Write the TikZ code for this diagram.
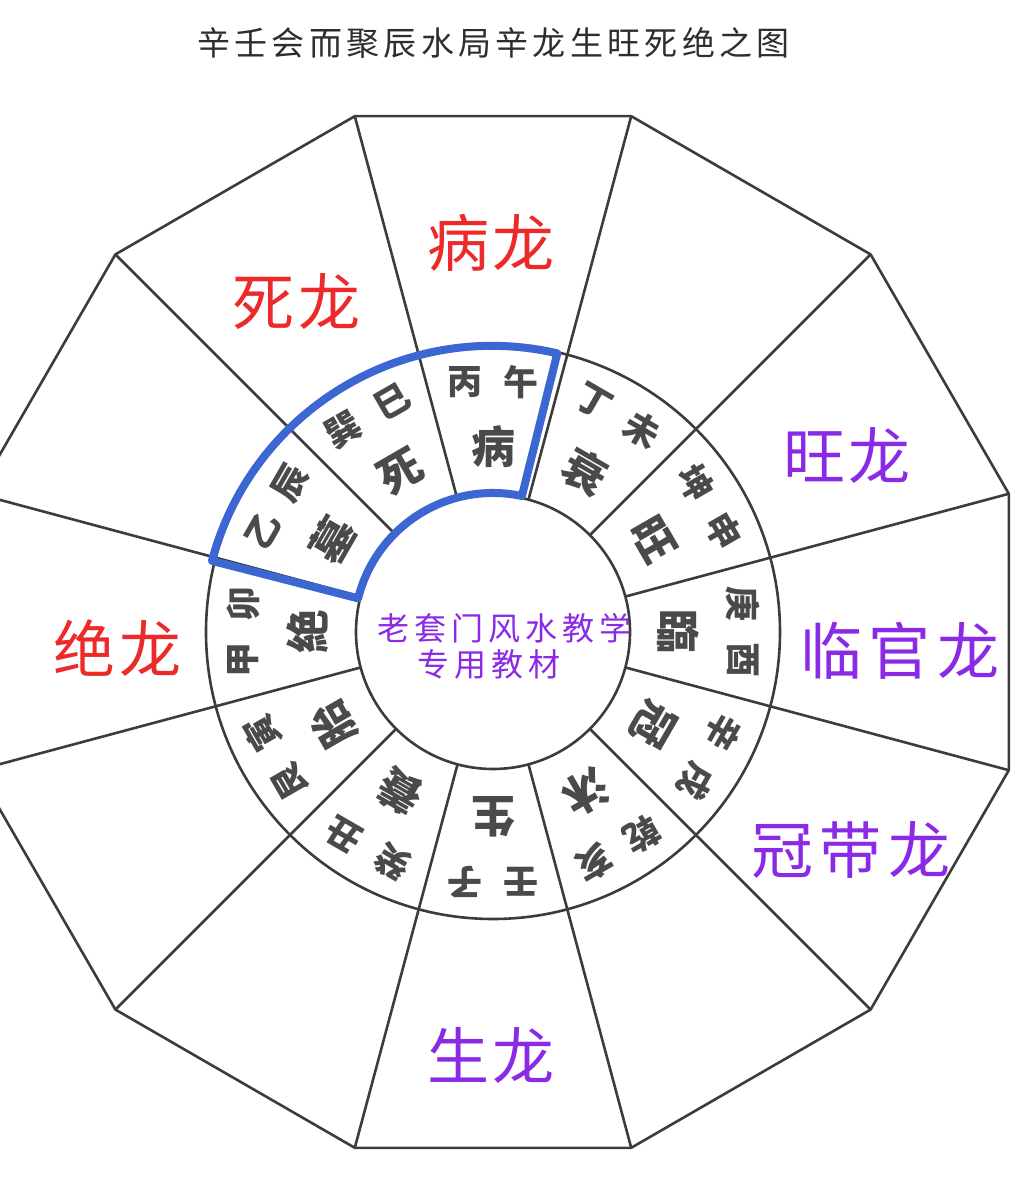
\documentclass[tikz,border=0pt]{standalone}
\usepackage{fontspec}
\newfontfamily\cjk{Noto Sans CJK SC}
\newfontfamily\cjktc{Noto Sans CJK TC}
\definecolor{lineg}{HTML}{3C3C3C}
\definecolor{ringtxt}{HTML}{4A4A4A}
\definecolor{redlab}{HTML}{EC2A2A}
\definecolor{purplab}{HTML}{8A2AE6}
\definecolor{blueline}{HTML}{3C66D2}
\definecolor{titleg}{HTML}{2E2E2E}
\begin{document}
\begin{tikzpicture}[x=1pt,y=1pt,
  frame/.style={draw=lineg, line width=2.6pt, line join=round},
  cellout/.style={font=\cjktc\bfseries\fontsize{35}{35}\selectfont, text=ringtxt, inner sep=0pt, transform shape},
  cellin/.style={font=\cjktc\bfseries\fontsize{44}{44}\selectfont, text=ringtxt, inner sep=0pt, transform shape},
  biglabel/.style={font=\cjk\fontsize{62}{62}\selectfont, inner sep=0pt},
  redlabel/.style={biglabel, text=redlab},
  purplabel/.style={biglabel, text=purplab},
  centertext/.style={font=\cjk\fontsize{32}{32}\selectfont, text=purplab, inner sep=0pt},
  titletext/.style={font=\cjk\fontsize{33}{33}\selectfont, text=titleg, inner sep=0pt},
  bluemark/.style={draw=blueline, line width=8pt, line join=round, line cap=round}
]
\useasboundingbox (-493,-561) rectangle (524,632);
\clip (-493,-561) rectangle (524,632);
\fill[white] (-493,-561) rectangle (524,632);

% polygon vertices and spoke ends
\foreach \k in {0,...,11} {
  \pgfmathsetmacro{\ang}{15+30*\k}
  \coordinate (v\k) at (\ang:534);
  \coordinate (i\k) at (\ang:137);
}
\draw[frame] (v0) -- (v1) -- (v2) -- (v3) -- (v4) -- (v5) -- (v6) -- (v7) -- (v8) -- (v9) -- (v10) -- (v11) -- cycle;
\foreach \k in {0,...,11} { \draw[frame] (i\k) -- (v\k); }
\coordinate (c) at (0,0);
\draw[frame] (c) circle[radius=137];
\draw[frame] (c) circle[radius=287];

% ring cells: first char, second char, inner char
\foreach \ang/\ca/\cb/\inner [count=\n] in {
  90/丙/午/病, 60/丁/未/衰, 30/坤/申/旺, 0/庚/酉/臨,
  -30/辛/戌/冠, -60/乾/亥/沐, -90/壬/子/生, -120/癸/丑/養,
  -150/艮/寅/胎, 180/甲/卯/絶, 150/乙/辰/墓, 120/巽/巳/死} {
  \pgfmathsetmacro{\rot}{\ang-90}
  \begin{scope}[rotate=\rot]
    \node[cellout] (ca\n) at (-28,250) {\ca};
    \node[cellout] (cb\n) at (28,250) {\cb};
    \node[cellin] (ci\n) at (0,185) {\inner};
  \end{scope}
}

% blue highlight
\draw[bluemark] (77:286) arc[start angle=77, end angle=165, radius=290]
  -- (166:139) arc[start angle=166, end angle=78, radius=139] -- cycle;

% title
\node[titletext] (title) at (0.5,589) {辛\kern4.3pt 壬\kern4.3pt 会\kern4.3pt 而\kern4.3pt 聚\kern4.3pt 辰\kern4.3pt 水\kern4.3pt 局\kern4.3pt 辛\kern4.3pt 龙\kern4.3pt 生\kern4.3pt 旺\kern4.3pt 死\kern4.3pt 绝\kern4.3pt 之\kern4.3pt 图};

% outer labels
\node[redlabel] (bing) at (-2,389) {病\kern4pt 龙};
\node[redlabel] (si) at (-196,331) {死\kern4pt 龙};
\node[redlabel] (jue) at (-375,-16) {绝\kern4pt 龙};
\node[purplabel] (wang) at (354,177) {旺\kern4pt 龙};
\node[purplabel] (lin) at (407,-19) {临\kern7pt 官\kern7pt 龙};
\node[purplabel] (guan) at (358,-218) {冠\kern7pt 带\kern7pt 龙};
\node[purplabel] (sheng) at (-2,-423) {生\kern4pt 龙};

% center text
\node[centertext] (ct1) at (12,4) {老\kern5pt 套\kern5pt 门\kern5pt 风\kern5pt 水\kern5pt 教\kern5pt 学};
\node[centertext] (ct2) at (-4,-32) {专\kern5pt 用\kern5pt 教\kern5pt 材};
\end{tikzpicture}
\end{document}
